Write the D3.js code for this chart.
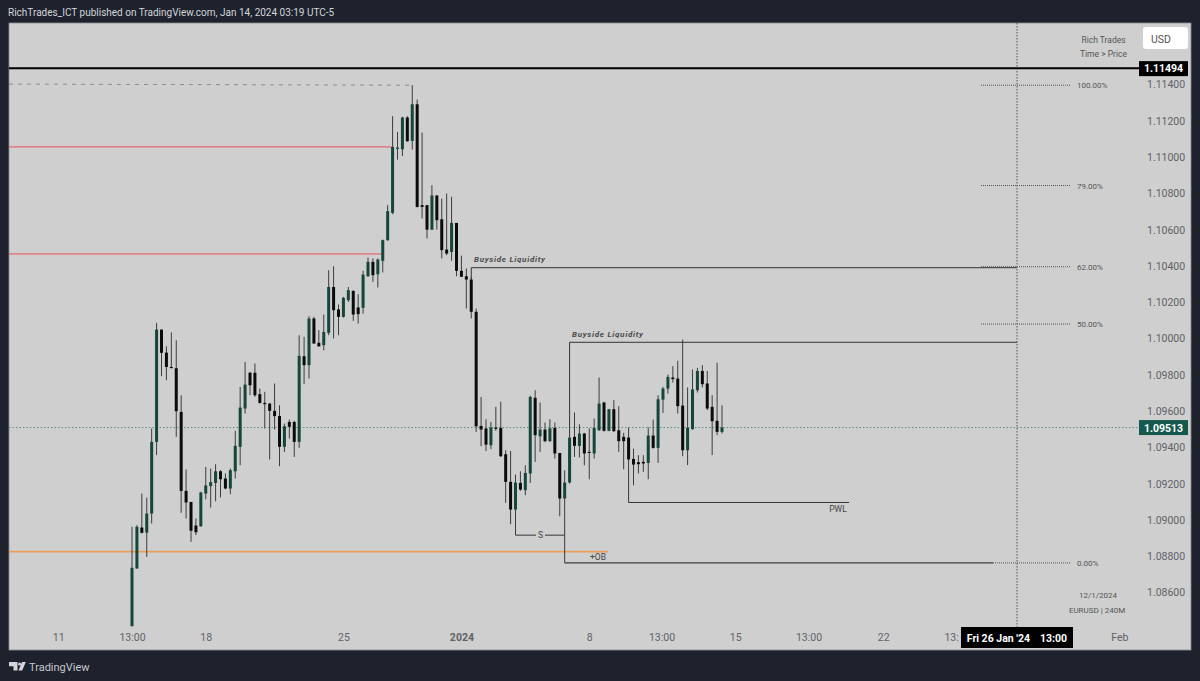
<!DOCTYPE html>
<html>
<head>
<meta charset="utf-8">
<script src="https://cdn.jsdelivr.net/npm/d3@7"></script>
<style>
  html, body { margin: 0; padding: 0; background: #1e222d; overflow: hidden; }
  text { font-family: Roboto, "Open Sans", sans-serif; }
</style>
</head>
<body>
<svg id="chart" width="1200" height="681"></svg>
<script>
// EURUSD 240M candles
var opens = [1.08418,1.08736,1.08962,1.08934,1.09039,1.09434,1.10053,1.09926,1.09847,1.09840,1.09599,1.09164,1.09103,1.08973,1.08969,1.09149,1.09190,1.09208,1.09272,1.09232,
  1.09177,1.09272,1.09407,1.09618,1.09815,1.09815,1.09697,1.09649,1.09645,1.09605,1.09577,1.09407,1.09544,1.09544,1.09434,1.09906,1.09857,1.10114,1.09980,1.09967,
  1.10035,1.10288,1.10164,1.10123,1.10215,1.10266,1.10175,1.10173,1.10347,1.10426,1.10358,1.10432,1.10546,1.10696,1.11049,1.11047,1.11222,1.11093,1.11295,1.10739,
  1.10739,1.10604,1.10792,1.10661,1.10494,1.10481,1.10641,1.10377,1.10347,1.10329,1.10151,1.09522,1.09508,1.09416,1.09513,1.09511,1.09366,1.09214,1.09061,1.09208,
  1.09168,1.09260,1.09677,1.09465,1.09502,1.09438,1.09511,1.09373,1.09122,1.09210,1.09462,1.09412,1.09480,1.09379,1.09370,1.09498,1.09651,1.09495,1.09614,1.09498,
  1.09462,1.09458,1.09340,1.09322,1.09324,1.09318,1.09469,1.09401,1.09667,1.09728,1.09789,1.09783,1.09634,1.09388,1.09504,1.09719,1.09825,1.09756,1.09627,1.09550,1.09489];
var highs = [1.08966,1.08975,1.09149,1.09127,1.09508,1.10090,1.10053,1.09961,1.10037,1.09994,1.09691,1.09282,1.09103,1.09012,1.09159,1.09296,1.09287,1.09311,1.09278,1.09260,
  1.09287,1.09495,1.09737,1.09875,1.09820,1.09866,1.09728,1.09710,1.09649,1.09756,1.09636,1.09535,1.09557,1.09550,1.10022,1.10013,1.10127,1.10123,1.10050,1.10136,
  1.10380,1.10402,1.10191,1.10233,1.10288,1.10270,1.10248,1.10377,1.10450,1.10445,1.10445,1.10549,1.10739,1.11229,1.11143,1.11226,1.11229,1.11400,1.11321,1.11139,
  1.10739,1.10849,1.10794,1.10775,1.10803,1.10785,1.10641,1.10461,1.10390,1.10344,1.10169,1.09682,1.09559,1.09544,1.09627,1.09655,1.09388,1.09384,1.09254,1.09272,
  1.09305,1.09688,1.09719,1.09651,1.09541,1.09559,1.09541,1.09373,1.09278,1.09458,1.09596,1.09531,1.09484,1.09508,1.09563,1.09789,1.09655,1.09614,1.09664,1.09631,
  1.09484,1.09513,1.09397,1.09361,1.09361,1.09513,1.09557,1.09691,1.09737,1.09805,1.09851,1.09881,1.09998,1.09734,1.09833,1.09842,1.09857,1.09825,1.09691,1.09870,1.09636];
var lows = [1.08418,1.08736,1.08929,1.08800,1.08984,1.09361,1.09796,1.09774,1.09838,1.09462,1.09043,1.09012,1.08883,1.08920,1.08966,1.09118,1.09072,1.09107,1.09127,1.09173,
  1.09146,1.09232,1.09305,1.09590,1.09691,1.09682,1.09645,1.09508,1.09337,1.09502,1.09300,1.09379,1.09452,1.09351,1.09401,1.09752,1.09783,1.09976,1.09958,1.09939,
  1.10022,1.10004,1.10022,1.10119,1.10206,1.10101,1.10086,1.10141,1.10344,1.10316,1.10285,1.10368,1.10542,1.10689,1.10990,1.11009,1.11088,1.11045,1.10726,1.10665,
  1.10555,1.10601,1.10604,1.10445,1.10463,1.10432,1.10347,1.10344,1.10169,1.10114,1.09489,1.09410,1.09384,1.09394,1.09495,1.09351,1.09098,1.08980,1.08920,1.09164,
  1.09140,1.09208,1.09324,1.09379,1.09432,1.09434,1.09342,1.09024,1.08767,1.09204,1.09351,1.09348,1.09305,1.09228,1.09342,1.09495,1.09491,1.09493,1.09489,1.09379,
  1.09283,1.09100,1.09195,1.09260,1.09269,1.09228,1.09397,1.09318,1.09594,1.09700,1.09761,1.09590,1.09355,1.09306,1.09502,1.09706,1.09734,1.09609,1.09361,1.09471,1.09480];
var closes = [1.08740,1.08966,1.08933,1.09039,1.09434,1.10053,1.09925,1.09847,1.09842,1.09603,1.09164,1.09100,1.08944,1.08936,1.09155,1.09194,1.09212,1.09272,1.09228,1.09177,
  1.09278,1.09412,1.09623,1.09750,1.09746,1.09691,1.09649,1.09642,1.09605,1.09576,1.09407,1.09520,1.09517,1.09434,1.09908,1.09857,1.10114,1.09976,1.09961,1.10040,
  1.10288,1.10160,1.10123,1.10228,1.10270,1.10136,1.10138,1.10356,1.10426,1.10353,1.10439,1.10546,1.10706,1.11060,1.11056,1.11222,1.11091,1.11295,1.10729,1.10729,
  1.10604,1.10792,1.10656,1.10491,1.10472,1.10641,1.10377,1.10344,1.10329,1.10151,1.09520,1.09502,1.09419,1.09513,1.09506,1.09355,1.09214,1.09061,1.09210,1.09171,
  1.09263,1.09682,1.09471,1.09502,1.09438,1.09508,1.09370,1.09122,1.09210,1.09458,1.09412,1.09480,1.09370,1.09373,1.09511,1.09645,1.09495,1.09614,1.09493,1.09438,
  1.09438,1.09337,1.09309,1.09311,1.09315,1.09469,1.09401,1.09669,1.09728,1.09792,1.09780,1.09631,1.09388,1.09511,1.09723,1.09825,1.09752,1.09618,1.09548,1.09489,1.09513];

var priceTicks = [1.114,1.112,1.110,1.108,1.106,1.104,1.102,1.100,1.098,1.096,1.094,1.092,1.090,1.088,1.086];
var timeTicks = [-15,0,15,43,67,93,107.7,122.7,137.6,152.8,166.6,200.8];
// the last 13:00 sits under the date tag in the picture, only "13:" shows
var timeLabels = ["11","13:00","18","25","2024","8","13:00","15","13:00","22","13:","Feb"];
var fibLevels = [1,0.79,0.62,0.5,0];
var fibLabels = ["100.00%","79.00%","62.00%","50.00%","0.00%"];

var topLevel = 1.11494;
var lastPrice = 1.09513;
var fibHigh = 1.11400;
var fibLow = 1.08767;
var redLevels = [[1.11060,53],[1.10470,51]];
var orangeLevel = 1.08829;
var buyside1 = 1.10394;
var buyside2 = 1.09983;
var pwl = 1.09100;
var sweepLow = 1.08920;

var green = "#14463c";
var black = "#0b0b0b";

var svg = d3.select("#chart");

var x = d3.scaleLinear().domain([0,120]).range([132,722]);
var y = d3.scaleLinear().domain([1.086,1.114]).range([593.2,85.2]);

var panelLeft = 9, panelTop = 23, panelRight = 1191, panelBottom = 650;
var leftIdx = x.invert(panelLeft), axisIdx = x.invert(1139), crossIdx = x.invert(1017);

svg.append("text").attr("x",8).attr("y",16).attr("fill","#d4d6db").attr("font-size","10px")
  .text("RichTrades_ICT published on TradingView.com, Jan 14, 2024 03:19 UTC-5");

svg.append("rect").attr("x",panelLeft).attr("y",panelTop)
  .attr("width",panelRight-panelLeft).attr("height",panelBottom-panelTop)
  .attr("fill","#cfcfcf").attr("stroke","#8b8d92").attr("stroke-width",0.8);

function hline(x1,x2,price,color,width,dash) {
  var l = svg.append("line")
    .attr("x1",x(x1)).attr("x2",x(x2))
    .attr("y1",y(price)).attr("y2",y(price))
    .attr("stroke",color).attr("stroke-width",width);
  if (dash) l.attr("stroke-dasharray",dash);
  return l;
}
function vline(idx,p1,p2,color,width) {
  svg.append("line")
    .attr("x1",x(idx)).attr("x2",x(idx))
    .attr("y1",y(p1)).attr("y2",y(p2))
    .attr("stroke",color).attr("stroke-width",width);
}
function note(px,py,str,opts) {
  opts = opts || {};
  return svg.append("text").attr("x",px).attr("y",py)
    .attr("fill",opts.color || "#444")
    .attr("font-size",opts.size || "8px")
    .attr("text-anchor",opts.anchor || "start")
    .attr("font-weight",opts.weight || "normal")
    .attr("font-style",opts.style || "normal")
    .text(str);
}

// levels behind the candles
hline(leftIdx,axisIdx,lastPrice,"#5d8d83",1,"1.5,2");
svg.append("line").attr("x1",x(crossIdx)).attr("x2",x(crossIdx)).attr("y1",panelTop).attr("y2",629)
  .attr("stroke","#555").attr("stroke-width",1).attr("stroke-dasharray","1.5,1.5");

redLevels.forEach(function(d) {
  hline(leftIdx,d[1]-0.2,d[0],"#e8505a",1);
});
hline(leftIdx,96.8,orangeLevel,"#ea9f5c",1.8);
hline(leftIdx,57,fibHigh+0.00006,"#8a8c92",1,"4,5").attr("y2",y(fibHigh));
hline(leftIdx,axisIdx,topLevel,"#000",2);

// fib levels
fibLevels.forEach(function(f,i) {
  var p = fibLow + (fibHigh-fibLow)*f;
  var start = f==0 ? x.invert(993) : x.invert(981);
  hline(start,x.invert(1070),p,"#555",1,"1,1");
  note(1077,y(p)+3,fibLabels[i],{color:"#555",size:"8px"});
});

// trend lines
hline(69,crossIdx,buyside1,"#333",1);
vline(69,buyside1,1.10329,"#333",1);
hline(89,crossIdx,buyside2,"#333",1);
vline(89,buyside2,1.09458,"#333",1);
hline(101,x.invert(849),pwl,"#333",1);
hline(88,x.invert(993),fibLow,"#3e3e3e",1.2);
hline(78,x.invert(536),sweepLow,"#333",1);
hline(x.invert(545),88,sweepLow,"#333",1);

note(474,262,"Buyside Liquidity",{size:"8px",weight:"bold",style:"italic",color:"#4a4a4a"}).style("letter-spacing","0.7px");
note(572,337,"Buyside Liquidity",{size:"8px",weight:"bold",style:"italic",color:"#4a4a4a"}).style("letter-spacing","0.7px");
note(540.5,538,"S",{size:"8.5px",anchor:"middle"});
note(598,560,"+OB",{size:"8.5px",anchor:"middle"});
note(838,512,"PWL",{size:"8.5px",anchor:"middle"});

// candles
var idx = d3.range(opens.length);
svg.append("g").selectAll("line").data(idx).join("line")
  .attr("x1",function(i){return x(i);}).attr("x2",function(i){return x(i);})
  .attr("y1",function(i){return y(highs[i]);}).attr("y2",function(i){return y(lows[i]);})
  .attr("stroke","#3c3c3c").attr("stroke-width",1);
svg.append("g").selectAll("rect").data(idx).join("rect")
  .attr("x",function(i){return x(i)-1.5;}).attr("width",3)
  .attr("y",function(i){return y(Math.max(opens[i],closes[i]));})
  .attr("height",function(i){return Math.max(1,Math.abs(y(opens[i])-y(closes[i])));})
  .attr("fill",function(i){return closes[i]>=opens[i] ? green : black;});

// price axis
var yAxis = d3.axisRight(y).tickValues(priceTicks).tickSize(0).tickPadding(0).tickFormat(d3.format(".5f"));
var yG = svg.append("g").attr("transform","translate(1147,-0.7)").call(yAxis);
yG.select(".domain").remove();
yG.selectAll("text").attr("fill","#5f6269").attr("font-size","10.5px").style("font-family","Roboto, sans-serif");

// time axis
var xAxis = d3.axisBottom(x).tickValues(timeTicks).tickSize(0).tickPadding(0)
  .tickFormat(function(d,i){return timeLabels[i];});
var xG = svg.append("g").attr("transform","translate(0,634)").call(xAxis);
xG.select(".domain").remove();
xG.selectAll("text").attr("fill","#5f6269").attr("font-size","10.5px").style("font-family","Roboto, sans-serif")
  .attr("font-weight",function(d,i){return timeLabels[i]=="2024" ? "bold" : "normal";});

// price tags
svg.append("rect").attr("x",1139).attr("y",y(topLevel)-7).attr("width",49).attr("height",15).attr("fill","#000");
note(1163.5,y(topLevel)+4,"1.11494",{color:"#fff",size:"10.5px",anchor:"middle",weight:"bold"});
svg.append("rect").attr("x",1139).attr("y",y(lastPrice)-7.5).attr("width",49).attr("height",15).attr("fill","#14594d");
note(1163.5,y(lastPrice)+4,"1.09513",{color:"#fff",size:"10.5px",anchor:"middle",weight:"bold"});

// date tag
svg.append("rect").attr("x",961).attr("y",627).attr("width",112).attr("height",21).attr("fill","#000");
note(1030,642,"Fri 26 Jan '24",{color:"#fff",size:"10.5px",anchor:"end",weight:"bold"});
note(1040,642,"13:00",{color:"#fff",size:"10.5px",weight:"bold"});

// watermark and button
svg.append("rect").attr("x",1143).attr("y",27).attr("width",45).attr("height",22).attr("rx",3).attr("fill","#fff");
note(1151,42.5,"USD",{color:"#555",size:"10.5px"});
note(1103.5,42.5,"Rich Trades",{color:"#555",size:"8.5px",anchor:"middle"});
note(1103.5,57,"Time > Price",{color:"#555",size:"8.5px",anchor:"middle"});
note(1098,598,"12/1/2024",{color:"#555",size:"8px",anchor:"middle"});
note(1097,613,"EURUSD | 240M",{color:"#555",size:"8px",anchor:"middle"});

// logo
svg.append("path").attr("fill","#d4d6db")
  .attr("d","M9 662h8.5v8.5h-4v-4.3H9z M18.5 670.5 22 662h3.8l-3.6 8.5z");
svg.append("circle").attr("cx",19.6).attr("cy",664).attr("r",1.5).attr("fill","#d4d6db");
note(29,670.5,"TradingView",{color:"#c6c8ce",size:"11px"});
</script>
</body>
</html>
